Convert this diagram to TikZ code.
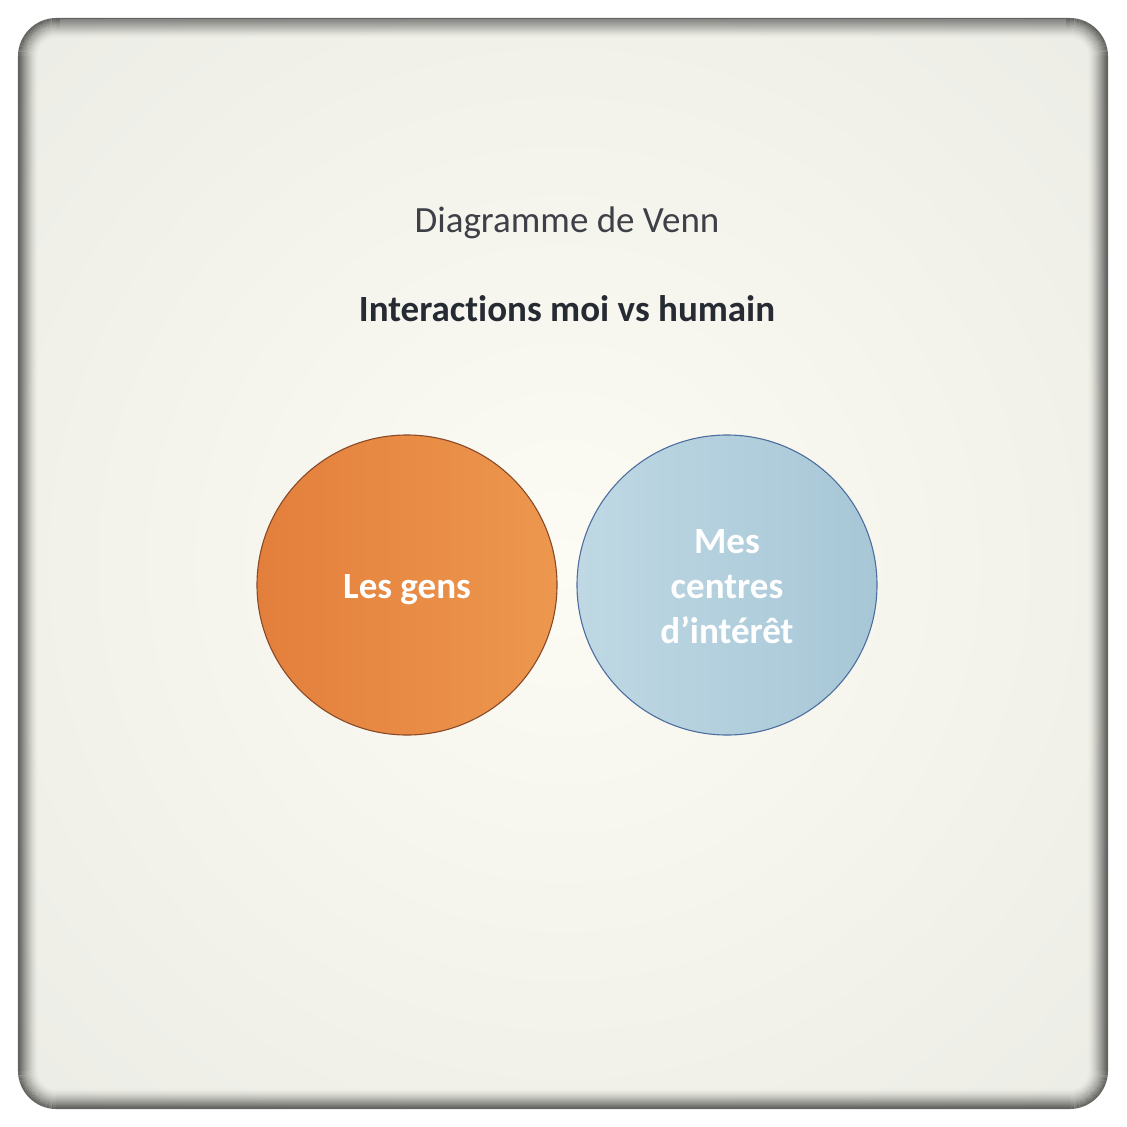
\documentclass[tikz,border=0pt]{standalone}
\usepackage{fontspec}
\setmainfont{Carlito}[Ligatures=NoCommon]
\definecolor{titlegray}{HTML}{3E4048}
\definecolor{subgray}{HTML}{262A33}
\definecolor{orangeL}{HTML}{E37F3C}
\definecolor{orangeR}{HTML}{ED974E}
\definecolor{orangeborder}{HTML}{8A4A28}
\definecolor{blueL}{HTML}{BFD8E4}
\definecolor{blueR}{HTML}{A7C7D6}
\definecolor{blueborder}{HTML}{4E6EA0}
\definecolor{bgA}{HTML}{FCFCF4}
\definecolor{bgB}{HTML}{F4F4EC}
\definecolor{bgC}{HTML}{E8E8E3}
\definecolor{bgD}{HTML}{DBDBD6}
\pgfdeclareradialshading{bgshade}{\pgfpoint{0bp}{0bp}}{color(0bp)=(bgA); color(18bp)=(bgB); color(45bp)=(bgC); color(71bp)=(bgD); color(100bp)=(bgD)}
\begin{document}
\begin{tikzpicture}[x=1pt,y=-1pt,
  titletext/.style={font=\fontsize{37}{45}\selectfont, text=titlegray, anchor=base, inner sep=0pt},
  subtitletext/.style={font=\fontsize{37}{45}\selectfont\bfseries, text=subgray, anchor=base, inner sep=0pt},
  circtext/.style={font=\fontsize{37}{45}\selectfont\bfseries, text=white, anchor=base, inner sep=0pt},
  vennA/.style={draw=orangeborder, line width=1.1pt, left color=orangeL, right color=orangeR},
  vennB/.style={draw=blueborder, line width=1.1pt, left color=blueL, right color=blueR},
]
\useasboundingbox (0,0) rectangle (1127,1127);
\fill[white] (0,0) rectangle (1127,1127);
% frame with radial background
\shade[shading=bgshade, rounded corners=38pt]
  (18,18) rectangle (1108,1109);
% edge shading
\foreach \i in {0,...,19}{
  \pgfmathsetmacro{\op}{0.55*(1-\i/20)^1.6}
  \draw[black, opacity=\op, line width=1.05pt, rounded corners={max(38-\i,8)*1pt}]
    (18.5+\i,18.5+\i) rectangle (1107.5-\i,1108.5-\i);
}
% lighter top edge
\foreach \i in {1,...,12}{
  \pgfmathsetmacro{\op}{0.22*(1-\i/13)}
  \draw[white, opacity=\op, line width=1.05pt] (60,18.5+\i) -- (1066,18.5+\i);
}
% texts
\node[titletext] (title) at (567,232) {Diagramme de Venn};
\node[subtitletext] (subtitle) at (567,321) {Interactions moi vs humain};
% circles
\path[vennA] (407,585) circle[radius=150];
\path[vennB] (727,585) circle[radius=150];
\coordinate (cA) at (407,585);
\coordinate (cB) at (727,585);
\node[circtext] (la) at (407,598) {Les gens};
\node[circtext] (lb1) at (727,553) {Mes};
\node[circtext] (lb2) at (727,598) {centres};
\node[circtext] (lb3) at (727,643) {d’intérêt};
\end{tikzpicture}
\end{document}
